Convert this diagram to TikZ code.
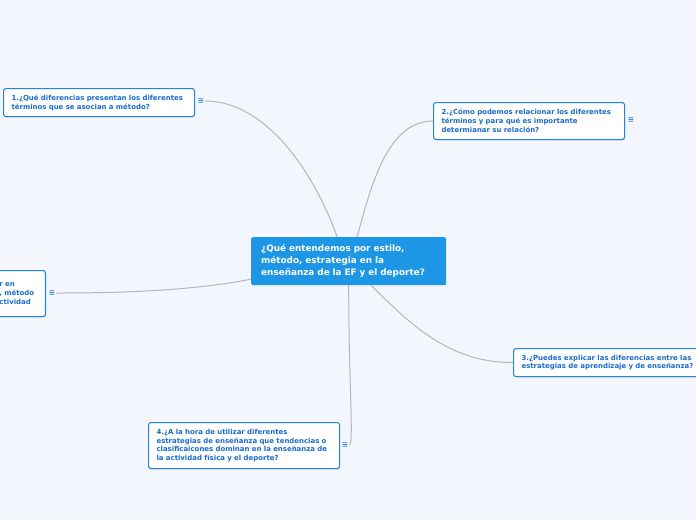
\documentclass[tikz,border=0pt]{standalone}
\usepackage{fontspec}
\setmainfont{DejaVu Sans}
\usetikzlibrary{shadows}
\definecolor{bgcol}{RGB}{243,246,253}
\definecolor{topicblue}{RGB}{38,132,222}
\definecolor{textblue}{RGB}{24,108,204}
\definecolor{centreblue}{RGB}{29,150,229}
\definecolor{linkgray}{RGB}{178,182,192}

\begin{document}
\begin{tikzpicture}[x=1pt,y=-1pt,
	topic/.style={draw=topicblue,line width=1.1pt,fill=white,rounded corners=2.5pt,
		text=textblue,font=\bfseries\fontsize{6.95}{8.8}\selectfont,align=left,
		inner xsep=8pt,inner ysep=2pt,anchor=north west,
		drop shadow={opacity=0.18,shadow xshift=0.6pt,shadow yshift=-1pt}},
	centre/.style={fill=centreblue,rounded corners=2pt,text=white,
		font=\bfseries\fontsize{8.85}{12.2}\selectfont,align=left,
		inner xsep=10pt,anchor=north west,text width=175pt,minimum height=48pt},
	menu/.style={fill=white,text=topicblue,inner sep=0.6pt,
		font=\bfseries\fontsize{8}{8}\selectfont},
	link/.style={draw=linkgray,line width=1pt}]
	\useasboundingbox (0,0) rectangle (696,520);
	\clip (0,0) rectangle (696,520);
	\fill[bgcol] (0,0) rectangle (696,520);

	% centre
	\node[centre] (centre) at (251,237)
		{¿Qué entendemos por estilo,\\ método, estrategia en la\\ enseñanza de la EF y el deporte?};

	% topics
	\node[topic,text width=175pt,minimum height=28pt] (n1) at (3,88)
		{1.¿Qué diferencias presentan los diferentes\\ términos que se asocian a método?};
	\node[topic,text width=175pt,minimum height=37pt] (n2) at (433,102)
		{2.¿Cómo podemos relacionar los diferentes\\ términos y para qué es importante\\ determianar su relación?};
	\node[topic,text width=185pt,minimum height=28pt] (n3) at (513,348)
		{3.¿Puedes explicar las diferencias entre las\\ estrategias de aprendizaje y de enseñanza?};
	\node[topic,text width=175pt,minimum height=46pt] (n4) at (148,422)
		{4.¿A la hora de utilizar diferentes\\ estrategias de enseñanza que tendencias o\\ clasificaicones dominan en la enseñanza de\\ la actividad física y el deporte?};
	\node[topic,text width=36pt,minimum height=46pt,inner xsep=10pt,anchor=north east] (n5) at (46,270)
		{r en\\ , método\\ ctividad};

	% menu marks
	\node[menu] (m1) at (201,101) {≡};
	\node[menu] (m2) at (631,120) {≡};
	\node[menu] (m4) at (345,445) {≡};
	\node[menu] (m5) at (52,293) {≡};

	% links
	\coordinate (c1) at ([xshift=-11.5pt]centre.north);
	\coordinate (c2) at ([xshift=8.5pt]centre.north);
	\coordinate (c3) at ([xshift=22.5pt]centre.south);
	\coordinate (c4) at (centre.south);
	\coordinate (c5) at ([yshift=-18pt]centre.west);
	\draw[link] (c1) .. controls +(-22,-62) and +(62,0) .. (m1.east);
	\draw[link] (c2) .. controls +(16,-62) and +(-42,0) .. (n2.west);
	\draw[link] (c3) .. controls +(42,42) and +(-62,0) .. (n3.west);
	\draw[link] (c4) .. controls +(0,100) and +(5,0) .. (m4.east);
	\draw[link] (c5) .. controls +(-62,12) and +(62,0) .. (m5.east);
\end{tikzpicture}
\end{document}
